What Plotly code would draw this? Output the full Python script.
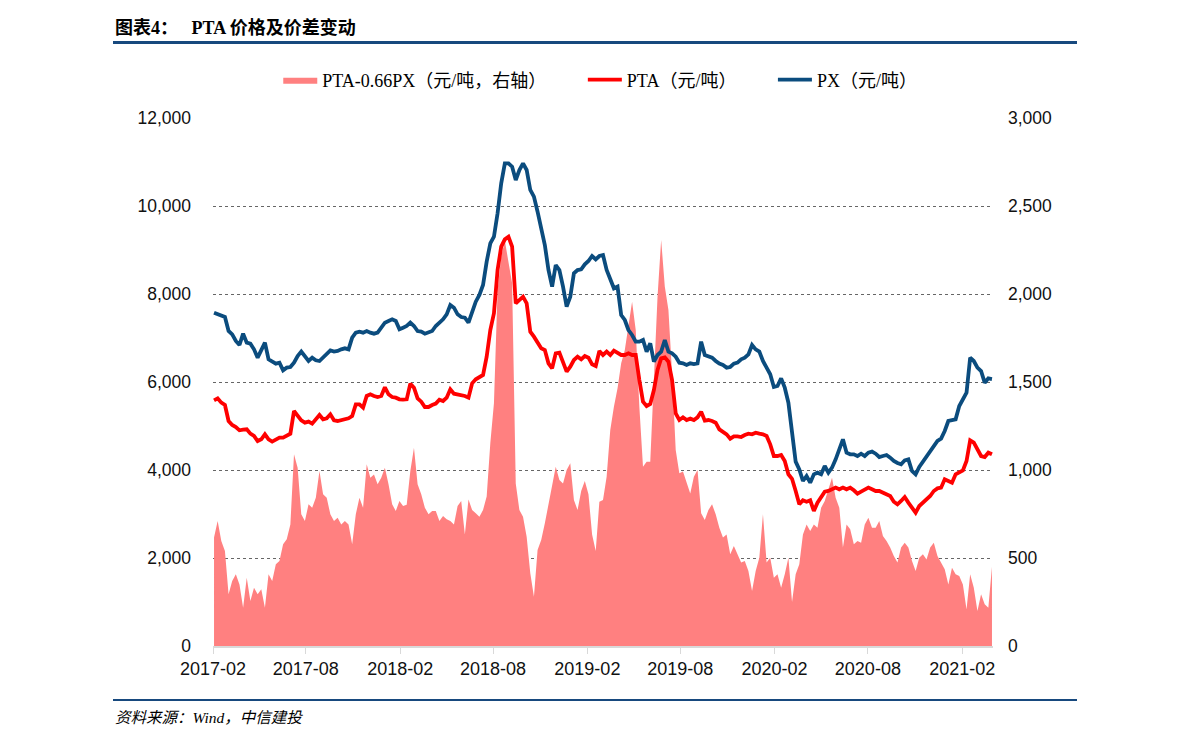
import pandas as pd
import plotly.graph_objects as go

# ---- data (roughly weekly samples) ----
px_vals = [
    7576, 7538, 7500, 7477, 7159, 7083, 6932, 6841, 7098, 6894, 6871, 6742, 6553, 6742, 6894, 6515,
    6477, 6417, 6440, 6265, 6326, 6341, 6440, 6591, 6690, 6591, 6477, 6553, 6493, 6477, 6553, 6629,
    6720, 6690, 6705, 6742, 6765, 6742, 7008, 7121, 7144, 7121, 7159, 7121, 7098, 7121, 7235, 7348,
    7386, 7424, 7386, 7197, 7235,
    7273, 7348, 7273, 7159, 7144, 7098, 7121, 7159, 7273, 7348, 7424, 7538, 7750, 7689, 7538, 7477,
    7462, 7348,
    7598, 7826, 7977, 8205, 8735, 9152, 9303, 9833, 10515, 10970, 10970, 10894, 10591, 10818, 10970,
    10818, 10364, 10212, 9871, 9455, 9114, 8545, 8167, 8659, 8545, 8167, 7712, 7939, 8470, 8545,
    8561, 8674, 8750, 8864, 8788, 8864,
    8886, 8545, 8318, 8129, 8167, 7523, 7409, 7182, 7068, 6917, 6917, 6955, 6689, 6879, 6462, 6614,
    6689, 6955, 6689, 6652, 6576, 6439, 6424, 6386, 6424, 6409, 6424, 6917, 6614, 6591,
    6553, 6477, 6417, 6386, 6326, 6341, 6417, 6440, 6515, 6553, 6629, 6841, 6742, 6690, 6477, 6326,
    6174, 5886, 5909, 6083, 5871, 5530, 4850,
    4190, 4015, 3750, 3864, 3712, 3902, 3939, 3902, 4091, 3939, 4053, 4242, 4470, 4697, 4394, 4356,
    4356, 4318, 4371, 4318, 4394, 4417, 4371, 4295, 4318, 4341, 4280, 4205, 4159, 4129, 4220, 4242,
    3977, 3902, 4068, 4190, 4280, 4432, 4523, 4659, 4712, 4886, 5114, 5129, 5152, 5455, 5606, 5758,
    6553, 6477, 6326, 6250, 5985, 6083, 6068,
]

pta_vals = [
    5583, 5629, 5530, 5477, 5114, 5023, 4977, 4902, 4917, 4924, 4826, 4773, 4659, 4697, 4811, 4697,
    4644, 4697, 4735, 4735, 4773, 4826, 5341, 5227, 5129, 5076, 5099, 5053, 5152, 5250, 5152, 5174,
    5265, 5129, 5114, 5129, 5152, 5174, 5227, 5492, 5492, 5417, 5682, 5720, 5682, 5659, 5682, 5880,
    5720, 5659, 5644, 5606, 5598,
    5606, 5962, 5871, 5629, 5553, 5432, 5432, 5477, 5508, 5598, 5568, 5644, 5833, 5735, 5720, 5705,
    5682, 5644,
    5970, 6061, 6121, 6159, 6576, 7182, 7561, 8545, 9076, 9242, 9303, 9076, 7788, 7879, 7939, 7788,
    7144, 7030, 6894, 6765, 6727, 6424, 6311, 6652, 6667, 6462, 6235, 6348, 6500, 6576,
    6515, 6591, 6553, 6402, 6364, 6705,
    6614, 6689, 6614, 6712, 6667, 6614, 6614, 6652, 6614, 6614, 6045, 5553, 5455, 5500, 5818, 6273,
    6538, 6561, 6462, 6045, 5288, 5136, 5197, 5136, 5167, 5136, 5197, 5326, 5121, 5136,
    5114, 5076, 4924, 4871, 4811, 4712, 4765, 4765, 4750, 4796, 4826, 4811, 4848, 4826, 4811, 4773,
    4583, 4318, 4318, 4341, 4205, 3902, 3800,
    3523, 3220, 3311, 3280, 3311, 3068, 3258, 3386, 3508, 3523, 3561, 3599, 3561, 3599, 3561, 3599,
    3538, 3462, 3508, 3561, 3599, 3561, 3523, 3523, 3485, 3447, 3409, 3280, 3220, 3295, 3386, 3258,
    3144, 3030, 3182, 3258, 3311, 3409, 3523, 3583, 3599, 3788, 3750, 3712, 3902, 3939, 3992, 4205,
    4674, 4621, 4470, 4318, 4295, 4394, 4356,
]

spread_vals = [
    616, 710, 597, 540, 294, 369, 407, 350, 218, 388, 256, 331, 294, 322, 218, 407,
    369, 464, 483, 578, 606, 691, 1089, 1013, 748, 710, 805, 786, 843, 994, 862, 843,
    748, 710, 729, 691, 710, 691, 578, 748, 843, 786, 1032, 956, 975, 919, 956, 1013,
    919, 805, 767, 824, 795,
    803, 994, 1127, 919, 862, 786, 748, 767, 767, 710, 739, 720, 710, 691, 795, 824,
    634, 833,
    773, 754, 735, 773, 849, 1152, 1379, 2023, 2212, 2302, 2174, 2061, 924, 773, 735, 621,
    413, 280, 545, 602, 697, 811, 924, 1019, 943, 924, 1000, 1038, 830, 773,
    881, 938, 862, 634, 540, 820,
    829, 962, 1227, 1360, 1464, 1606, 1682, 1814, 1956, 1796, 1360, 1019, 1047, 1047, 1474, 1985,
    2307, 2042, 1909, 1549, 1114, 981, 991, 924, 867, 962, 1000, 754, 716, 773,
    805, 748, 672, 616, 634, 521, 568, 521, 474, 483, 426, 312, 426, 502, 748, 474,
    502, 388, 407, 331, 407, 502, 250,
    407, 464, 634, 691, 653, 691, 672, 786, 824, 890, 956, 843, 786, 559, 691, 663,
    578, 597, 587, 691, 729, 672, 672, 710, 625, 597, 559, 511, 474, 559, 587, 559,
    483, 426, 502, 521, 492, 559, 587, 511, 474, 436, 350, 445, 407, 398, 350, 208,
    407, 331, 199, 294, 237, 218, 450,
]

assert len(px_vals) == len(pta_vals) == len(spread_vals), (len(px_vals), len(pta_vals), len(spread_vals))
dates = pd.date_range("2017-02-03", "2021-03-31", periods=len(px_vals))

x_ticks = pd.date_range("2017-02-01", "2021-02-01", freq="6MS")
x_tick_text = [d.strftime("%Y-%m") for d in x_ticks]

PINK = "#FF8080"
RED = "#FF0000"
BLUE = "#0B4C7E"
RULE = "#17497E"
SERIF = "Liberation Serif, 'Times New Roman', 'Noto Sans CJK SC', serif"
SANS = "Liberation Sans, Arial, Helvetica, sans-serif"
PAD = "\u00a0" * 7

fig = go.Figure()
fig.add_trace(go.Scatter(
    x=dates, y=spread_vals, name="PTA-0.66PX（元/吨，右轴）" + PAD,
    mode="lines", line=dict(width=0, color=PINK), fill="tozeroy", fillcolor=PINK,
    yaxis="y",
))
fig.add_trace(go.Scatter(
    x=dates, y=pta_vals, name="PTA（元/吨）" + PAD,
    mode="lines", line=dict(width=3.8, color=RED), yaxis="y2",
))
fig.add_trace(go.Scatter(
    x=dates, y=px_vals, name="PX（元/吨）",
    mode="lines", line=dict(width=3.8, color=BLUE), yaxis="y2",
))

fig.update_layout(
    width=1191, height=745,
    margin=dict(l=213, r=198, t=118, b=99, autoexpand=False),
    paper_bgcolor="white", plot_bgcolor="white",
    showlegend=True,
    legend=dict(
        orientation="h", xref="container", yref="container",
        x=0.504, xanchor="center", y=1 - 80 / 745, yanchor="middle",
        font=dict(family=SERIF, size=18, color="#000"),
        itemwidth=34, traceorder="normal",
    ),
    xaxis=dict(
        type="date", range=["2017-02-01", "2021-04-02"],
        tickvals=list(x_ticks), ticktext=x_tick_text,
        showline=True, linecolor="#D9D9D9", linewidth=1.5,
        ticks="outside", ticklen=6, tickcolor="#D9D9D9", tickwidth=1,
        showgrid=False, zeroline=False, automargin=False,
        tickfont=dict(family=SANS, size=18, color="#111"),
    ),
    yaxis=dict(
        side="right", range=[0, 3000], dtick=500, tickformat=",",
        showgrid=True, gridcolor="#666", griddash="dot", gridwidth=1,
        zeroline=False, showline=False, ticks="", automargin=False,
        tickfont=dict(family=SANS, size=17.5, color="#111"),
        ticklabelstandoff=14,
    ),
    yaxis2=dict(
        overlaying="y", side="left", range=[0, 12000], dtick=2000, tickformat=",",
        showgrid=False, zeroline=False, showline=False, ticks="", automargin=False,
        tickfont=dict(family=SANS, size=17.5, color="#111"),
        ticklabelstandoff=21,
    ),
)

# header / footer decoration
fig.add_annotation(
    xref="paper", yref="paper", x=(113 - 213) / 780, y=1 + (118 - 27) / 528,
    xanchor="left", yanchor="middle", showarrow=False,
    text="<b>图表4：   PTA 价格及价差变动</b>",
    font=dict(family=SERIF, size=18, color="#000"),
)
fig.add_shape(type="rect", xref="paper", yref="paper",
              x0=(113 - 213) / 780, x1=(1077 - 213) / 780,
              y0=1 + (118 - 44) / 528, y1=1 + (118 - 41) / 528,
              fillcolor=RULE, line=dict(width=0))
fig.add_shape(type="rect", xref="paper", yref="paper",
              x0=(113 - 213) / 780, x1=(1077 - 213) / 780,
              y0=-(701 - 646) / 528, y1=-(699 - 646) / 528,
              fillcolor=RULE, line=dict(width=0))
fig.add_annotation(
    xref="paper", yref="paper", x=(113 - 213) / 780, y=-(718 - 646) / 528,
    xanchor="left", yanchor="middle", showarrow=False,
    text="<i>资料来源：Wind，中信建投</i>",
    font=dict(family=SERIF, size=15.5, color="#000"),
)

fig.write_html("out.html")
